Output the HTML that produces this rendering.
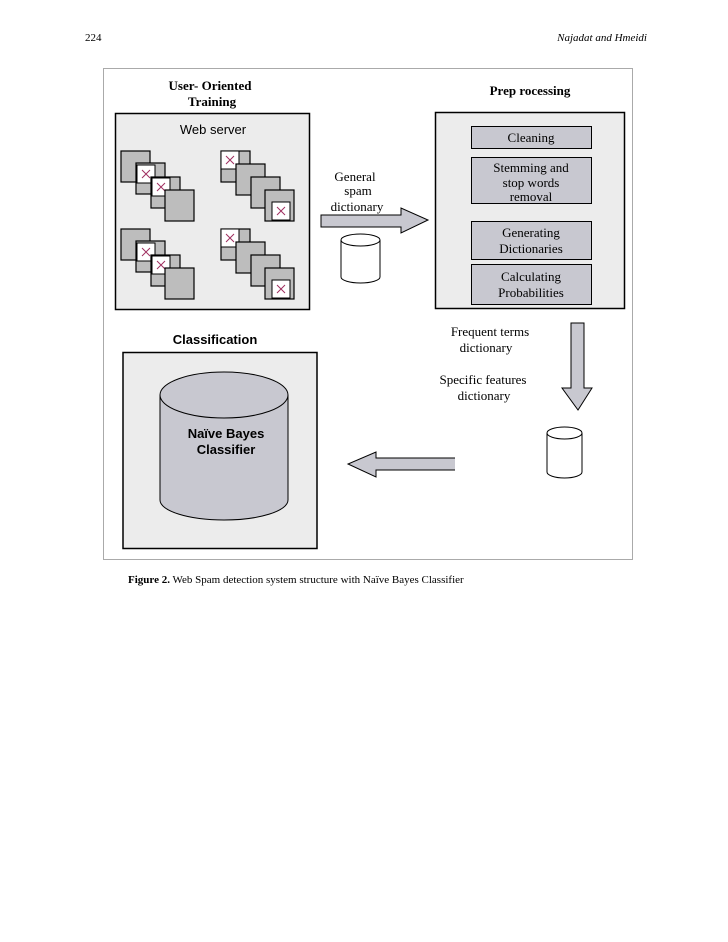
<!DOCTYPE html>
<html><head><meta charset="utf-8"><style>
body{margin:0;background:#fff;}
svg{display:block;}
</style></head><body>
<svg width="728" height="942" viewBox="0 0 728 942" xmlns="http://www.w3.org/2000/svg">
<defs>
<g id="xm"><rect x="0" y="0" width="18" height="18" fill="#fff" stroke="#000" stroke-width="1"/><path d="M5 5 L13 13 M13 5 L5 13" stroke="#a03060" stroke-width="1"/></g>
<g id="sq"><rect x="0" y="0" width="29" height="31" fill="#bdbdbd" stroke="#000" stroke-width="1.2"/></g>
</defs>
<text x="85" y="41" font-family="Liberation Serif" font-size="11">224</text>
<text x="647" y="41" font-family="Liberation Serif" font-size="11" font-style="italic" text-anchor="end">Najadat and Hmeidi</text>

<rect x="103.5" y="68.5" width="529" height="491" fill="#fff" stroke="#aaa" stroke-width="1"/>

<text x="210" y="90" font-family="Liberation Serif" font-weight="bold" font-size="13" text-anchor="middle">User- Oriented</text>
<text x="212" y="106" font-family="Liberation Serif" font-weight="bold" font-size="13" text-anchor="middle">Training</text>
<rect x="115.5" y="113.5" width="194" height="196" fill="#ececec" stroke="#000" stroke-width="1.5"/>
<text x="213" y="134" font-family="Liberation Sans" font-size="13" text-anchor="middle">Web server</text>

<g id="g1">
<use href="#sq" x="121" y="151"/>
<use href="#sq" x="136" y="163"/>
<use href="#xm" x="137" y="165"/>
<use href="#sq" x="151" y="177"/>
<use href="#xm" x="152" y="178"/>
<use href="#sq" x="165" y="190"/>
</g>
<use href="#g1" x="0" y="78"/>
<g id="g2">
<use href="#sq" x="221" y="151"/>
<use href="#xm" x="221" y="151"/>
<use href="#sq" x="236" y="164"/>
<use href="#sq" x="251" y="177"/>
<use href="#sq" x="265" y="190"/>
<use href="#xm" x="272" y="202"/>
</g>
<use href="#g2" x="0" y="78"/>

<text x="355" y="181" font-family="Liberation Serif" font-size="13" text-anchor="middle">General</text>
<text x="358" y="195" font-family="Liberation Serif" font-size="13" text-anchor="middle">spam</text>
<text x="357" y="211" font-family="Liberation Serif" font-size="13" text-anchor="middle">dictionary</text>
<path d="M321 215 L401 215 L401 208 L428 220 L401 233 L401 227 L321 227 Z" fill="#c8c8d0" stroke="#000" stroke-width="1"/>
<path d="M341 240 L341 277 A19.5 6 0 0 0 380 277 L380 240" fill="#fff" stroke="#000"/>
<ellipse cx="360.5" cy="240" rx="19.5" ry="6" fill="#fff" stroke="#000"/>

<text x="530" y="95" font-family="Liberation Serif" font-weight="bold" font-size="13" text-anchor="middle">Prep rocessing</text>
<rect x="435.5" y="112.5" width="189" height="196" fill="#ececec" stroke="#000" stroke-width="1.5"/>
<g font-family="Liberation Serif" font-size="13" text-anchor="middle">
<rect x="471.5" y="126.5" width="120" height="22" fill="#c8c8d0" stroke="#000"/>
<text x="531" y="142">Cleaning</text>
<rect x="471.5" y="157.5" width="120" height="46" fill="#c8c8d0" stroke="#000"/>
<text x="531" y="172">Stemming and</text><text x="531" y="187">stop words</text><text x="531" y="201">removal</text>
<rect x="471.5" y="221.5" width="120" height="38" fill="#c8c8d0" stroke="#000"/>
<text x="531" y="237">Generating</text><text x="531" y="253">Dictionaries</text>
<rect x="471.5" y="264.5" width="120" height="40" fill="#c8c8d0" stroke="#000"/>
<text x="531" y="281">Calculating</text><text x="531" y="297">Probabilities</text>

<text x="490" y="336">Frequent terms</text>
<text x="486" y="352">dictionary</text>
<text x="483" y="384">Specific features</text>
<text x="484" y="400">dictionary</text>
</g>
<path d="M571 323 L584 323 L584 388 L592 388 L578 410 L562 388 L571 388 Z" fill="#c8c8d0" stroke="#000"/>
<path d="M547 433 L547 472 A17.5 6 0 0 0 582 472 L582 433" fill="#fff" stroke="#000"/>
<ellipse cx="564.5" cy="433" rx="17.5" ry="6" fill="#fff" stroke="#000"/>

<path d="M455 458 L376 458 L376 452 L348 464 L376 477 L376 470 L455 470" fill="#c8c8d0" stroke="#000"/>

<text x="215" y="344" font-family="Liberation Sans" font-weight="bold" font-size="13" text-anchor="middle">Classification</text>
<rect x="123" y="352.5" width="194" height="196" fill="#ececec" stroke="#000" stroke-width="1.5"/>
<path d="M160 395 L160 500 A64 20 0 0 0 288 500 L288 395" fill="#c8c8d0" stroke="#000"/>
<ellipse cx="224" cy="395" rx="64" ry="23" fill="#c8c8d0" stroke="#000"/>
<text x="226" y="438" font-family="Liberation Sans" font-weight="bold" font-size="13" text-anchor="middle">Naïve Bayes</text>
<text x="226" y="454" font-family="Liberation Sans" font-weight="bold" font-size="13" text-anchor="middle">Classifier</text>

<text x="128" y="583" font-family="Liberation Serif" font-size="11"><tspan font-weight="bold">Figure 2.</tspan> Web Spam detection system structure with Naïve Bayes Classifier</text>
</svg>
</body></html>
